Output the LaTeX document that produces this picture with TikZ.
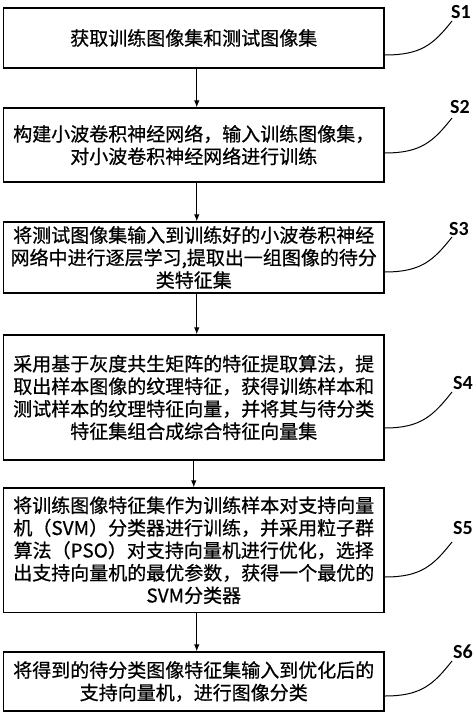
\documentclass[tikz,border=0pt]{standalone}
\usepackage{fontspec}
\setmainfont{Noto Sans CJK SC}[FakeBold=0.7]
\newfontfamily\labfont{Carlito}
\usetikzlibrary{arrows.meta,calc}
\begin{document}
\begin{tikzpicture}[x=1pt,y=-1pt,
  stepbox/.style={draw=black,line width=1.3pt,rectangle,minimum width=380.5pt,inner sep=0pt,align=center,
    font=\fontsize{19}{22.5}\selectfont},
  flowarrow/.style={line width=1pt,-{Latex[length=7pt,width=5.5pt]}},
  leader/.style={line width=1pt},
  steplabel/.style={font=\labfont\bfseries\fontsize{20}{20}\selectfont,inner sep=0pt}]
\useasboundingbox (0,0) rectangle (474,715);
\node[stepbox,minimum height=60pt] (b1) at (193.75,38) {获取训练图像集和测试图像集};
\node[stepbox,minimum height=74pt] (b2) at (193.75,145) {构建小波卷积神经网络，输入训练图像集，\\对小波卷积神经网络进行训练};
\node[stepbox,minimum height=71pt] (b3) at (193.75,257.5) {将测试图像集输入到训练好的小波卷积神经\\网络中进行逐层学习,提取出一组图像的待分\\类特征集};
\node[stepbox,minimum height=125pt] (b4) at (193.75,397.5) {采用基于灰度共生矩阵的特征提取算法，提\\取出样本图像的纹理特征，获得训练样本和\\测试样本的纹理特征向量，并将其与待分类\\特征集组合成综合特征向量集};
\node[stepbox,minimum height=124.5pt] (b5) at (193.75,550.25) {将训练图像特征集作为训练样本对支持向量\\机（SVM）分类器进行训练，并采用粒子群\\算法（PSO）对支持向量机进行优化，选择\\出支持向量机的最优参数，获得一个最优的\\SVM分类器};
\node[stepbox,minimum height=59pt] (b6) at (193.75,681.5) {将得到的待分类图像特征集输入到优化后的\\支持向量机，进行图像分类};

\draw[flowarrow] ([xshift=3pt]b1.south) -- ([xshift=3pt]b2.north);
\draw[flowarrow] ([xshift=3pt]b2.south) -- ([xshift=3pt]b3.north);
\draw[flowarrow] ([xshift=3pt]b3.south) -- ([xshift=3pt]b4.north);
\draw[flowarrow] (b4.south) -- (b5.north);
\draw[flowarrow] ([xshift=3pt]b5.south) -- ([xshift=3pt]b6.north);

\node[steplabel] (s1) at (461,12) {S1};
\node[steplabel] (s2) at (460,107) {S2};
\node[steplabel] (s3) at (459,229) {S3};
\node[steplabel] (s4) at (463,383) {S4};
\node[steplabel] (s5) at (463,528) {S5};
\node[steplabel] (s6) at (463,652) {S6};

\coordinate (st1) at ($(b1.east)+(0,17)$);
\coordinate (st2) at ($(b2.east)+(0,8)$);
\coordinate (st3) at ($(b3.east)+(0,14.5)$);
\coordinate (st4) at ($(b4.east)+(0,30.5)$);
\coordinate (st5) at ($(b5.east)+(0,26.75)$);
\coordinate (st6) at ($(b6.east)+(0,14.5)$);
\coordinate (e1) at (452,21);
\coordinate (e2) at (452,118);
\coordinate (e3) at (452,237);
\coordinate (e4) at (452,392);
\coordinate (e5) at (452,542);
\coordinate (e6) at (452,661);
\foreach \i in {1,...,6}{
  \draw[leader] (st\i) .. controls ($(st\i)+(36,0)$) and ($(e\i)+(-19,24)$) .. (e\i);
}
\end{tikzpicture}
\end{document}
